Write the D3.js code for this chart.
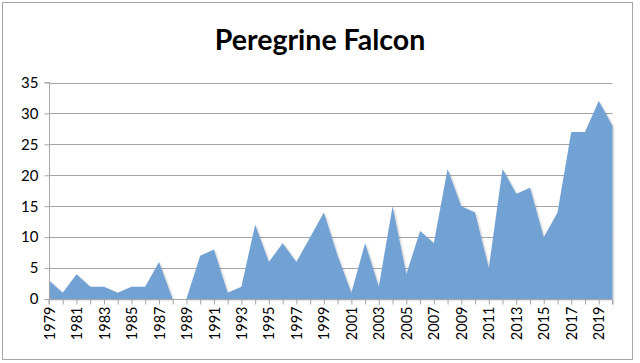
<!DOCTYPE html>
<html>
<head>
<meta charset="utf-8">
<script src="https://cdn.jsdelivr.net/npm/d3@7"></script>
<style>
  body { margin: 0; background: #fff; }
  text { font-family: Lato, "Open Sans", sans-serif; }
</style>
</head>
<body>
<script>
// Peregrine Falcon counts per year

let years = d3.range(1979, 2021);
let counts = [
  3, 1, 4, 2, 2, 1, 2, 2, 6, 0,
  0, 7, 8, 1, 2, 12, 6, 9, 6, 10,
  14, 7, 1, 9, 2, 15, 4, 11, 9, 21,
  15, 14, 5, 21, 17, 18, 10, 14, 27, 27,
  32, 28
];
let yTicks = [0, 5, 10, 15, 20, 25, 30, 35];
let labelYears = years.filter(y => (y - 1979) % 2 === 0);

let width = 640,
  height = 363;

let svg = d3.select('body')
  .append('svg')
    .attr('width', width)
    .attr('height', height);

// outer chart border
svg.append('rect')
  .attr('x', 2.5)
  .attr('y', 2.5)
  .attr('width', 630)
  .attr('height', 357)
  .attr('fill', '#fff')
  .attr('stroke', '#a6a6a6')
  .attr('stroke-width', 1);

// shadow for the area
let defs = svg.append('defs');
let f = defs.append('filter').attr('id', 'shadow')
  .attr('x', '-5%').attr('y', '-5%').attr('width', '110%').attr('height', '110%');
f.append('feDropShadow')
  .attr('dx', 1).attr('dy', 1)
  .attr('stdDeviation', 1.2)
  .attr('flood-color', '#000')
  .attr('flood-opacity', 0.25);

let xScale = d3.scalePoint()
  .domain(years)
  .range([49, 612.5]);

let yScale = d3.scaleLinear()
  .domain([0, 35])
  .range([299, 82.5]);

// title
svg.append('text')
  .attr('x', 320)
  .attr('y', 50)
  .attr('text-anchor', 'middle')
  .style('font-size', '28.5px')
  .style('font-weight', 'bold')
  .style('fill', '#000')
  .text('Peregrine Falcon');

// gridlines
svg.append('g')
  .selectAll('line')
  .data(yTicks.filter(t => t > 0))
  .enter()
  .append('line')
    .attr('x1', 49)
    .attr('x2', 612.5)
    .attr('y1', d => Math.round(yScale(d)) + 0.5)
    .attr('y2', d => Math.round(yScale(d)) + 0.5)
    .attr('stroke', '#a6a6a6')
    .attr('stroke-width', 1);

// area
let area = d3.area()
  .x((d, i) => xScale(years[i]))
  .y0(yScale(0))
  .y1(d => yScale(d));

svg.append('path')
  .datum(counts)
  .attr('d', area)
  .attr('fill', '#72a1d3')
  .attr('filter', 'url(#shadow)');

// y axis
let yAxis = svg.append('g')
  .attr('transform', 'translate(49.5,0)')
  .call(d3.axisLeft(yScale).tickValues(yTicks).tickSize(5).tickPadding(6));
yAxis.select('.domain').attr('stroke', '#a6a6a6').attr('d', `M-5,${yScale(35)}H0V${yScale(0)}`);
yAxis.selectAll('line').attr('stroke', '#a6a6a6');
yAxis.selectAll('text')
  .style('font-family', 'Lato, sans-serif')
  .style('font-size', '15px')
  .style('fill', '#000');

// x axis
let xAxis = svg.append('g')
  .attr('transform', `translate(0,${Math.round(yScale(0)) + 0.5})`)
  .call(d3.axisBottom(xScale).tickSize(5).tickFormat(d => labelYears.includes(d) ? d : ''));
xAxis.select('.domain').attr('stroke', '#a6a6a6').attr('d', `M49,5V0H612.5V5`);
xAxis.selectAll('line').attr('stroke', '#a6a6a6');
xAxis.selectAll('text')
  .style('font-family', 'Lato, sans-serif')
  .style('font-size', '14.5px')
  .style('fill', '#000')
  .style('text-anchor', 'end')
  .attr('dy', '0.35em')
  .attr('x', -7)
  .attr('y', 0)
  .attr('transform', 'rotate(-90)');
</script>
</body>
</html>
